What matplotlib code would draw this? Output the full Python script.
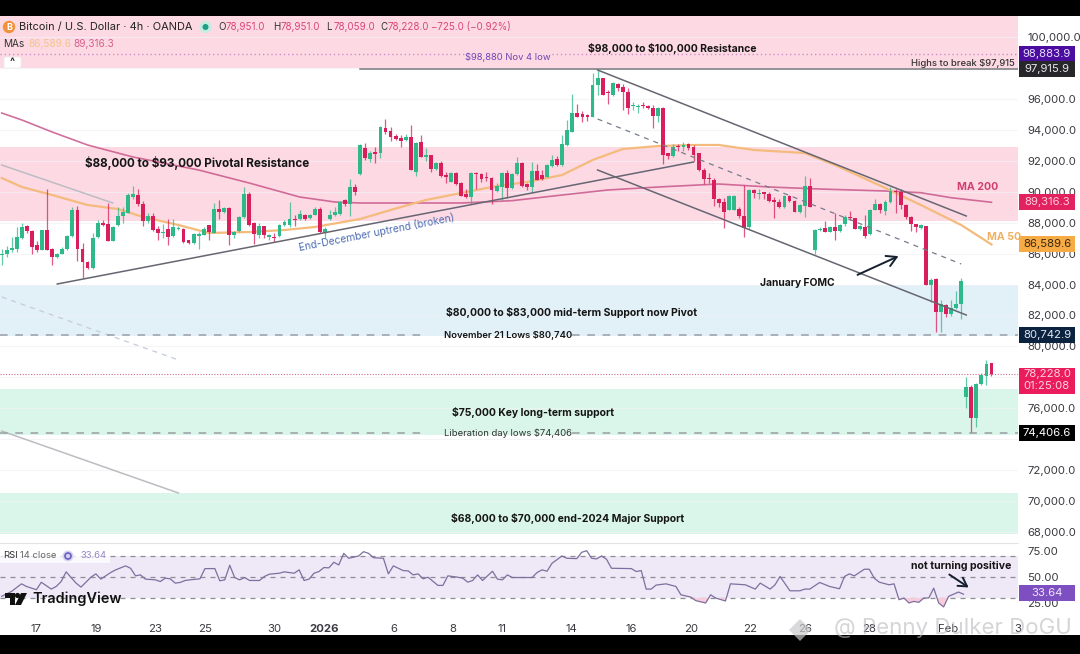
import matplotlib
matplotlib.use("Agg")
import matplotlib.pyplot as plt
from matplotlib.patches import Rectangle, Circle, Polygon, FancyBboxPatch
from matplotlib.transforms import blended_transform_factory

plt.rcParams['font.family'] = ['Inter', 'DejaVu Sans']

# 4h candles
opens = [85900,85950,86250,86300,87000,87800,87450,86550,86250,87500,
86300,85750,85950,86300,87150,88800,86300,85450,85050,87050,
88000,87900,86800,87850,88400,88650,89650,89800,89200,88100,
88400,87600,87300,87620,87140,87620,87570,86860,86690,87140,
87230,87830,87360,88910,88690,88950,87190,87460,88370,89880,
88000,87190,87770,87080,87080,87140,87830,87830,88260,88220,
88520,88300,88520,88910,87360,88260,88480,88590,89450,89230,
90310,91150,
92800,92090,92540,92480,94140,93920,93620,93490,93340,93550,
91300,93230,92260,92370,91460,91870,91080,90650,91230,90540,
89850,89680,91220,91120,90950,90860,90060,90330,91220,90260,
91140,91870,90530,90320,91360,91080,90970,91650,92110,91750,
93020,93880,95110,95020,94960,94850,96900,97370,96460,96250,
96940,96790,96470,95530,95500,95600,95540,95390,94890,95390,
92480,92300,92950,92870,93080,92870,92480,91400,90900,90750,89500,
89360,88820,88820,88860,88430,87700,90110,89830,89960,89850,
89460,89350,88990,89740,89400,88710,89080,90370,
86230,87520,87630,87420,87740,87480,87890,88340,88280,87610,
87740,87250,88820,89200,88770,89320,90040,89960,89140,88340,
87890,87630,87780,83970,84350,82250,82680,82070,82500,82740,
76750,77395,75350,77570,78100,78951]
highs = [86300,86500,87100,87700,88000,87850,87500,86800,87550,90200,
86350,86050,86400,87200,89000,89100,86700,85500,87300,88200,
88200,89300,87800,89000,89000,89900,90400,90200,89400,88600,
88600,87800,87900,88260,88260,87800,87660,86900,87300,87400,
87700,87850,89300,89490,89000,89000,87450,88400,90310,90000,
88050,87950,87800,87250,87300,87900,88150,89340,88500,88800,
88550,88550,89000,89000,87700,88800,89000,89400,89500,90850,
90500,93100,
93120,92600,92900,94250,94700,94200,93700,93650,93700,94300,
93200,93650,92850,92400,91900,92000,91300,91300,91300,90600,
90150,91250,91300,91200,91300,90950,90550,91300,91400,91200,
92250,91900,90550,91900,91800,91400,91800,92400,92300,93650,
94650,96300,95650,95200,95000,97650,97880,97370,96600,97100,
97000,96950,96700,95800,95650,95800,95600,95600,95500,95500,
92500,93100,93100,93200,93150,93000,92500,91500,91200,90900,89600,
89570,89800,89800,89000,90440,90200,90200,90200,90000,90000,
89650,89500,89800,89800,89450,89200,91000,90900,
87600,87700,88100,87800,88650,87900,88500,88750,88300,87850,
88500,88900,89500,89300,89450,90300,90150,90200,89200,88400,
87900,87900,87800,84400,84400,83000,82750,83000,83600,84450,
78000,77500,77650,78300,79150,78951]
lows = [85250,85800,86100,86100,86950,87300,86000,86100,86250,86250,
85250,85700,85950,86250,87100,85500,84400,85000,85000,87000,
87800,86800,86800,87800,87950,88600,89500,89100,87800,88000,
87450,86900,87000,86580,87100,87500,86700,86600,86650,86320,
87200,86860,87350,88260,88650,86540,87000,87400,88300,87800,
86650,87000,87000,86900,86750,87100,87800,87750,87800,88150,
88200,88250,88500,87300,87000,88200,88400,88500,89100,88400,
89800,91100,
92050,91900,91850,92200,93700,93300,93350,92900,93300,91400,
91000,92250,92000,91300,91400,90950,90550,90600,90450,89700,
89600,89200,90200,90650,90700,89200,89950,89450,89600,90170,
91100,90300,90100,89900,90750,90750,90950,91600,91650,91650,
92950,93850,94800,94500,94550,94850,96250,96250,95700,96200,
96500,95300,95050,95300,95100,95400,95350,94100,94500,91800,
92100,92250,92600,92650,92700,92000,91350,90500,90550,89100,89000,
87630,88800,88800,88300,87080,87600,89600,89550,89500,89350,
88300,88950,88950,89350,88700,88650,88340,89000,
86000,87450,87400,87400,86900,87400,87800,88200,87600,87550,
87000,87200,88800,88650,88500,89300,88650,88900,88250,87450,
87400,87580,83950,82900,80950,80950,81900,81950,82450,81750,
76000,74450,74800,77500,77500,78059]
closes = [85950,86250,86350,87100,87700,87450,86450,86250,87500,86250,
85800,85950,86300,87150,88800,86300,85450,85050,87000,88000,
87850,86800,87700,88400,88700,89800,89850,89200,88100,88400,
87500,87300,87400,87080,87720,87680,86750,86690,87250,87290,
87620,87400,88910,88690,88970,87190,87400,88370,89880,87830,
87290,87770,87190,87190,87020,87870,88050,88260,88150,88590,
88260,88520,88870,87400,87620,88520,88690,89340,89230,90310,
89990,93050,
92150,92480,92440,94200,93880,93510,93400,93280,93550,91400,
93120,92260,92350,91440,91830,91010,90970,91230,90500,89720,
89680,91180,91120,90800,90900,90110,90390,91180,90210,91140,
91870,90370,90320,91360,90760,90800,91720,92050,91720,93080,
93980,95110,94850,94850,94850,96900,97330,96250,96350,97000,
96720,96470,95390,95600,95530,95540,95400,94890,95430,92370,
92300,92910,92870,93000,92800,92370,91400,90800,90850,89500,89250,
88710,89720,89700,88430,87680,90110,89890,89940,89850,89400,
89350,88990,89740,89400,88710,89140,90370,89030,
87520,87600,87420,87740,87460,87870,88340,88280,87610,87780,
87140,88820,89200,88820,89360,90040,90000,89140,88340,87890,
87740,87820,83970,84290,82250,82740,82090,82500,82740,84230,
77400,75350,77570,78150,78860,78228]

ma200_idx = [0,4,10,17,26,39,49,59,66,71,81,91,101,111,120,130,142,152,162,175,182,188,196]
ma200_val = [95087,94635,93859,93019,92243,91403,90563,89658,89334,89270,89270,89270,89419,
             89787,90110,90304,90498,90304,90175,90045,89936,89612,89316]
ma50_idx = [0,4,10,17,23,28,35,41,49,56,62,71,77,84,91,97,104,111,117,123,130,137,142,149,159,165,175,182,190,196]
ma50_val = [90886,90304,89787,89140,88882,88365,87848,87331,87395,87524,87718,88235,88817,89464,
            89916,90304,90627,91080,92049,92760,92954,93019,93019,92696,92502,91726,90239,89140,87848,86590]

rsi_idx = [0,2,4,5,7,8,10,11,12,13,15,16,18,19,20,22,23,25,26,27,28,29,31,32,33,34,35,36,37,38,
           40,41,43,44,45,46,47,48,49,50,52,53,54,56,57,59,60,61,62,63,64,65,66,67,68,69,70,72,73,74,
           75,77,78,79,81,82,83,84,85,86,88,89,90,92,93,94,95,96,97,99,100,101,102,103,
           107,108,109,110,111,113,114,116,117,118,119,120,121,122,123,127,128,129,130,131,132,134,136,137,
           139,140,142,143,144,146,147,150,152,153,155,156,157,159,161,162,163,165,167,169,170,171,172,174,
           175,176,177,179,180,181,182,183,184,185,186,187,188,189,190,191,193,194]
rsi_val = [31.6,36.3,43.5,41,37.9,45,38.5,41,45.7,54.9,44.2,40.4,49.8,53,48,54.3,56.8,60.6,58.3,51.1,52,48,47.3,45.7,48.9,48.3,44.2,44.8,46.7,47.3,
           48.3,58,58,46.4,47.3,61.2,49.5,47.3,49.5,46.7,46.7,50.5,52.7,53.6,54.9,53.6,56.8,46.7,48,53.6,55.2,59,58.7,64,61.5,72.5,67.8,70,74.1,72.5,
           68.4,67.8,53,60.6,56.1,55.8,52,53,48.3,49.8,42,42,51.1,49.8,48.9,45.1,46.7,52,46.7,55.5,48,47.3,52,49.5,
           49.5,54.3,56.8,55.5,63,70,67.8,67.5,73.5,75,67.8,67.2,70,66.9,58.3,58,55.2,56.1,38.5,38.5,42.3,43.5,41,33.1,
           30.9,27.5,25.3,33.1,30,27.2,43.5,42.6,38.5,44.2,38.5,42.6,50.5,36.9,36.9,38.5,38.5,44.8,41,38.8,50.5,53,51.1,57.4,
           57.4,48.9,45.1,42.6,43.5,28.4,30,25.3,26.8,25.9,30,30,39.4,25.3,21.5,31.6,35.7,33.64]

price_ticks = [100000,96000,94000,92000,90000,88000,86000,84000,82000,80000,76000,72000,70000,68000]
grid_prices = list(range(68000,102000,2000))
rsi_ticks = [75,50,25]
date_idx = [7,19,31,41,55,65,79,91,101,115,127,139,151,162,175,191,205]
date_labels = ['17','19','23','25','30','2026','6','8','11','14','16','20','22','26','28','Feb','3']

pink, blue, green = '#fdd9e4', '#e2f0f8', '#daf6ea'
zones = [(97996,102000,pink),(88100,92900,pink),(80700,84000,blue),(74300,77250,green),(67860,70525,green)]

# (idx0, price0, idx1, price1)
trend_solid = [(11,84034,137,91920),(118,97867,191,88430),(118,91403,191,82030)]
trend_mid = (118,94700,190,85327)
trend_pale = [(0,91726,22,89270),(0,74531,35,70524)]
trend_pale_dash = (0,83194,35,79121)

# horizontal levels, broken where their labels sit
dashed_levels = [80742,74406]
level_gap = (84,113)
low_level = 98880
low_gap = (92,109)

# right side price tags: value, label, background, text colour
tags = [(98883.9,'98,883.9','#4a0d9f','#e8dcff'),(97915.9,'97,915.9','#26262b','#e8e8e8'),
        (89316.3,'89,316.3','#e2225f','#ffc9da'),(86589.6,'86,589.6','#f6ab45','#3a2a10'),
        (80742.9,'80,742.9','#0c2340','#dfe6f2'),(74406.6,'74,406.6','#000000','#ffffff')]

fig = plt.figure(figsize=(10.8,6.54),dpi=100)
W, H = 1080., 654.
def axes_px(x0,y0,x1,y1):
    return fig.add_axes([x0/W,1-y1/H,(x1-x0)/W,(y1-y0)/H])

ax = axes_px(0,16,1018,543)
rsi = axes_px(0,544,1018,614)
xlim = (-0.337,201.25)
ax.set_xlim(*xlim)
ax.set_ylim(100000-(543-37)*64.64,100000-(16-37)*64.64)
rsi.set_xlim(*xlim)
rsi.set_ylim(14.8,81.4)

for y0,y1,c in zones:
    ax.axhspan(y0,y1,color=c,lw=0,zorder=0)
for p in grid_prices:
    ax.axhline(p,color='#f2f2f5',lw=0.8,alpha=.7,zorder=0.5)

for a,b,c,d in trend_pale:
    ax.plot([a,c],[b,d],color='#bcbcc2',lw=1.1,zorder=1)
ax.plot(trend_pale_dash[0::2],trend_pale_dash[1::2],color='#c5cbdc',lw=0.9,ls=(0,(4,4)),zorder=1)

ax.plot(ma200_idx,ma200_val,color='#c9578a',lw=1.2,alpha=.85,zorder=2)
ax.plot(ma50_idx,ma50_val,color='#f4bb7c',lw=1.6,zorder=2)

ax.plot([xlim[0],low_gap[0]],[low_level,low_level],color='#cf8fc4',lw=1,ls=(0,(1,2)),zorder=1)
ax.plot([low_gap[1],xlim[1]],[low_level,low_level],color='#cf8fc4',lw=1,ls=(0,(1,2)),zorder=1)
ax.plot([71,xlim[1]],[97915,97915],color='#77777c',lw=1.1,zorder=1)
for lvl in dashed_levels:
    ax.plot([xlim[0],level_gap[0]],[lvl,lvl],color='#9a9ea6',lw=1.1,ls=(0,(5,5)),zorder=1)
    ax.plot([level_gap[1],xlim[1]],[lvl,lvl],color='#9a9ea6',lw=1.1,ls=(0,(5,5)),zorder=1)
ax.axhline(78228,color='#d06a92',lw=0.8,ls=(0,(1,1.5)),zorder=1)

for i,(o,h,l,c) in enumerate(zip(opens,highs,lows,closes)):
    col = '#2fb98a' if c>=o else '#d81f5c'
    ax.vlines(i,l,h,color=col,lw=0.9,alpha=.75,zorder=3)
    ax.bar(i,abs(c-o),bottom=min(o,c),width=0.76,color=col,lw=0,zorder=4)

for a,b,c,d in trend_solid:
    ax.plot([a,c],[b,d],color='#666672',lw=1.1,zorder=5)
ax.plot(trend_mid[0::2],trend_mid[1::2],color='#777c8c',lw=0.9,ls=(0,(4,4)),zorder=5)

ax.yaxis.tick_right()
ax.set_yticks(price_ticks)
ax.set_yticklabels([f'{p:,.1f}' for p in price_ticks],color='#3a3a40',fontsize=8.2)
ax.tick_params(axis='y',length=0,pad=6.5)
ax.set_xticks([])
for s in ax.spines.values():
    s.set_visible(False)

# right hand tags
tr = blended_transform_factory(ax.transAxes,ax.transData)
def tag(a,val,label,bg,fg,h=1030):
    a.add_patch(Rectangle((1019/1018,val-h/2),56/1018,h,transform=tr,color=bg,clip_on=False,lw=0,zorder=8))
    a.text(1047/1018,val,label,transform=tr,ha='center',va='center',color=fg,fontsize=8.2,zorder=9,clip_on=False)
for val,label,bg,fg in tags:
    tag(ax,val,label,bg,fg)
ax.add_patch(Rectangle((1019/1018,78228-470-840),56/1018,1680,transform=tr,color='#ea1c5c',clip_on=False,lw=0,zorder=8))
ax.text(1047/1018,78228+10,'78,228.0',transform=tr,ha='center',va='center',color='#ffd3e0',fontsize=8.2,zorder=9)
ax.text(1047/1018,78228-770,'01:25:08',transform=tr,ha='center',va='center',color='#ffd3e0',fontsize=8.2,zorder=9)

# RSI pane
rsi.axhspan(30,70,color='#efe8f7',lw=0,zorder=0)
for lvl in (70,50,30):
    rsi.axhline(lvl,color='#8d8d96',lw=0.9,ls=(0,(4,4)),zorder=1)
rsi.fill_between(rsi_idx,rsi_val,30,where=[v<30 for v in rsi_val],interpolate=True,color='#f8ccdb',lw=0,zorder=1.5)
rsi.plot(rsi_idx,rsi_val,color='#7f6f9e',lw=0.9,zorder=2)
rsi.yaxis.tick_right()
rsi.set_yticks(rsi_ticks)
rsi.set_yticklabels(['75.00','50.00','25.00'],color='#3a3a40',fontsize=8.2)
rsi.set_xticks(date_idx)
rsi.set_xticklabels(date_labels,color='#3a3a40',fontsize=8.2)
rsi.get_xticklabels()[5].set_fontweight('bold')
rsi.tick_params(length=0)
rsi.tick_params(axis='y',pad=6.5)
rsi.tick_params(axis='x',pad=7)
rsi.patch.set_alpha(0)
for s in rsi.spines.values():
    s.set_visible(False)

# overlay in pixel coordinates, for the drawn notes and the frame
top = fig.add_axes([0,0,1,1],zorder=10)
top.set_xlim(0,W)
top.set_ylim(H,0)
top.axis('off')
top.add_patch(Rectangle((0,0),W,16,color='black',lw=0))
top.add_patch(Rectangle((0,635),W,19,color='black',lw=0))
top.plot([0,1018],[543,543],color='#e3e3e6',lw=0.8)

top.add_patch(Rectangle((1019,585),56,16,color='#7d4fc0',lw=0))
top.text(1047,593,'33.64',ha='center',va='center',color='#efe6ff',fontsize=8.2)

def note(x,y,s,color='#151515',size=7.5,weight='bold',**kw):
    top.text(x,y,s.replace('$',r'\$'),ha=kw.pop('ha','center'),va='center',color=color,fontsize=size,fontweight=weight,**kw)

note(672,48,'$98,000 to $100,000 Resistance')
note(508,57,'$98,880 Nov 4 low',color='#6f47b5',size=6.8,weight='normal')
note(1015,64,'Highs to break $97,915',ha='right',color='#333',size=6.8,weight='medium')
note(197,163,'$88,000 to $93,000 Pivotal Resistance',size=8.4)
note(377,232,'End-December uptrend (broken)',color='#4d6db3',size=7.4,weight='normal',rotation=11)
note(797,283,'January FOMC',size=7.4)
note(978,187,'MA 200',color='#cf3f70',size=7.6)
note(1004,237,'MA 50',color='#f1b163',size=7.6)
note(572,313,'$80,000 to $83,000 mid-term Support now Pivot')
note(508,336,'November 21 Lows $80,740',size=6.8,weight='semibold')
note(533,413,'$75,000 Key long-term support')
note(508,433,'Liberation day lows $74,406',size=6.8,weight='normal',color='#333')
note(568,518,'$68,000 to $70,000 end-2024 Major Support')
note(961,566,'not turning positive',size=7.6)

top.annotate('',xy=(901,255),xytext=(855,276),arrowprops=dict(arrowstyle='->,head_length=.7,head_width=.4',color='#15202e',lw=1.4))
top.annotate('',xy=(971,589),xytext=(947,573),arrowprops=dict(arrowstyle='->,head_length=.6,head_width=.35',color='#15202e',lw=1.4))

# header
top.add_patch(Circle((9,27),6.2,color='#f0923b',lw=0))
note(9,27,'B',color='#ffffff',size=6.5)
note(19,27,'Bitcoin / U.S. Dollar · 4h · OANDA',ha='left',color='#222',size=7.9,weight='normal')
top.add_patch(Circle((205.5,27),6,color='#c5ece0',lw=0))
top.add_patch(Circle((205.5,27),3,color='#1f9d86',lw=0))
for x,lab,val in [(218,'O','78,951.0'),(273,'H','78,951.0'),(326,'L','78,059.0'),(380,'C','78,228.0')]:
    top.text(x,27,lab,ha='left',va='center',color='#333',fontsize=7.0)
    top.text(x+7.5,27,val,ha='left',va='center',color='#d8457a',fontsize=7.0)
note(431,27,'−725.0 (−0.92%)',ha='left',color='#d8457a',size=7.0,weight='normal')
note(3,44,'MAs',ha='left',color='#333',size=7.2,weight='normal')
note(28,44,'86,589.6',ha='left',color='#f3c48c',size=7.2,weight='normal')
note(73,44,'89,316.3',ha='left',color='#d8608c',size=7.2,weight='normal')
top.add_patch(FancyBboxPatch((4,57),17,11,boxstyle='round,pad=0,rounding_size=2',fc='white',ec='#eeeeee',lw=0.6))
note(12.5,62,'^',color='#222',size=7.5)

# rsi legend
top.add_patch(Rectangle((0,549),110,14,fc='#ffffff',ec='none',alpha=.75))
note(3,556,'RSI',ha='left',color='#333',size=6.8,weight='normal')
note(20,556,'14 close',ha='left',color='#666',size=6.8,weight='normal')
top.add_patch(Circle((68,556),5.5,color='#d7d3f0',lw=0))
top.add_patch(Circle((68,556),3,fc='none',ec='#6a5fc0',lw=1.2))
note(80,556,'33.64',ha='left',color='#9a86c6',size=6.8,weight='normal')

# TradingView logo
top.add_patch(Polygon([(5,593),(15,593),(15,605),(10,605),(10,598),(5,598)],color='#111',lw=0))
top.add_patch(Circle((17.5,595.5),2.6,color='#111',lw=0))
top.add_patch(Polygon([(21,593),(27,593),(21,605),(15,605)],color='#111',lw=0))
note(32,598.5,'TradingView',ha='left',color='#111',size=10.4,weight='semibold')

# watermark
top.text(953,628,'@ Penny Dulker DoGU',ha='center',va='center',color='#b9b9bd',fontsize=16,alpha=.6)
top.add_patch(Polygon([(800,619),(811,630),(800,641),(789,630)],fc='#c9c9cc',ec='none',alpha=.7))

fig.savefig('out.png',dpi=100)
